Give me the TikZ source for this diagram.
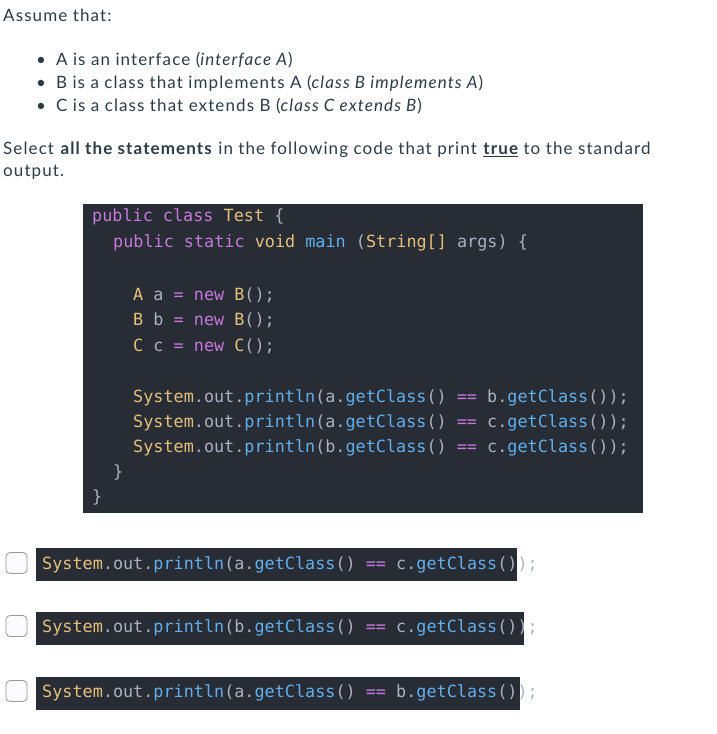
\documentclass[tikz,border=0pt]{standalone}
\usepackage{fontspec}
\setmainfont[LetterSpace=6.5]{Lato}
\newfontfamily\codefont{DejaVu Sans Mono}
\definecolor{cbg}{HTML}{282C34}
\definecolor{ckw}{HTML}{C678DD}
\definecolor{cty}{HTML}{E5C07B}
\definecolor{cfn}{HTML}{61AFEF}
\definecolor{cpl}{HTML}{ABB2BF}
\definecolor{txt}{HTML}{2D3B45}
\newcommand{\kw}[1]{\textcolor{ckw}{#1}}
\newcommand{\ty}[1]{\textcolor{cty}{#1}}
\newcommand{\fn}[1]{\textcolor{cfn}{#1}}
\newcommand{\printcmp}[2]{\ty{System}.out.\fn{println}(#1.\fn{getClass}() \kw{==} #2.\fn{getClass}());}
\begin{document}
\begin{tikzpicture}[x=1pt,y=-1pt,
  txtn/.style={anchor=west,inner sep=0pt,text=txt,font=\fontsize{17}{20}\selectfont},
  code/.style={anchor=west,inner sep=0pt,text=cpl,font=\codefont\fontsize{16.8}{18}\selectfont},
  chk/.style={draw=gray!80,fill=blue!2,rounded corners=4pt,line width=0.8pt,minimum size=21pt,inner sep=0pt}]
\useasboundingbox (0,0) rectangle (717,734);
\node[txtn] (t0) at (3,15) {Assume that:};
\node[txtn] (b1) at (36,60) {•\hspace{10pt}A is an interface (\textit{interface A})};
\node[txtn] (b2) at (36,83) {•\hspace{10pt}B is a class that implements A (\textit{class B implements A})};
\node[txtn] (b3) at (36,106) {•\hspace{10pt}C is a class that extends B (\textit{class C extends B})};
\node[txtn] (s1) at (3,150) {Select \textbf{all the statements} in the following code that print \textbf{\underline{true}} to the standard};
\node[txtn] (s2) at (3,172) {output.};
\fill[cbg] (83,204) rectangle (643,513);
\node[code] (c1) at (92,217) {\kw{public class} \ty{Test} \{};
\node[code] (c2) at (113,243) {\kw{public static} \ty{void} \fn{main} (\ty{String[]} args) \{};
\node[code] (c3) at (133,295) {\ty{A} a \kw{=} \kw{new} \ty{B}();};
\node[code] (c4) at (133,320) {\ty{B} b \kw{=} \kw{new} \ty{B}();};
\node[code] (c5) at (133,346) {\ty{C} c \kw{=} \kw{new} \ty{C}();};
\node[code] (c6) at (133,398) {\printcmp{a}{b}};
\node[code] (c7) at (133,423) {\printcmp{a}{c}};
\node[code] (c8) at (133,448) {\printcmp{b}{c}};
\node[code] (c9) at (113,472) {\}};
\node[code] (c10) at (92,497) {\}};
\node[chk] (k1) at (16.5,563) {};
\fill[cbg] (36,548) rectangle (517,581);
\node[code] (o1) at (42,565) {\printcmp{a}{c}};
\node[chk] (k2) at (16.5,626) {};
\fill[cbg] (36,612) rectangle (524,645);
\node[code] (o2) at (42,628) {\printcmp{b}{c}};
\node[chk] (k3) at (16.5,691) {};
\fill[cbg] (36,677) rectangle (520,710);
\node[code] (o3) at (42,693) {\printcmp{a}{b}};
\end{tikzpicture}
\end{document}
